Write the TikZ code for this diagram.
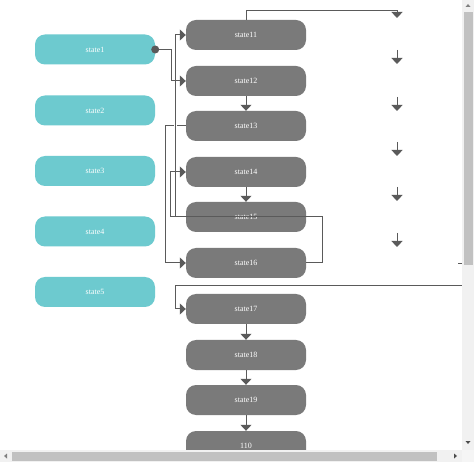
\documentclass[tikz,border=0pt]{standalone}
\usepackage{fontspec}
\setmainfont{Liberation Serif}
\usetikzlibrary{arrows.meta}
\definecolor{tealbox}{HTML}{6DCACF}
\definecolor{greybox}{HTML}{7A7A7A}
\definecolor{linegrey}{HTML}{5A5A5A}
\definecolor{track}{HTML}{F1F1F1}
\definecolor{thumb}{HTML}{C1C1C1}

\begin{document}
\begin{tikzpicture}[x=1pt, y=-1pt, >={Triangle[length=6pt,width=11pt]},
  box/.style={rounded corners=10pt, minimum width=120pt, minimum height=30pt,
    inner sep=0pt, text=white, font=\fontsize{8}{9}\selectfont},
  srcbox/.style={box, fill=tealbox},
  stbox/.style={box, fill=greybox},
  wire/.style={draw=linegrey, line width=1pt}]
  \useasboundingbox (0,0) rectangle (474,462);
  \fill[white] (0,0) rectangle (474,462);

  % left column
  \node[srcbox] (s1) at (95,49.5) {state1};
  \node[srcbox] (s2) at (95,110.5) {state2};
  \node[srcbox] (s3) at (95,171) {state3};
  \node[srcbox] (s4) at (95,231.5) {state4};
  \node[srcbox] (s5) at (95,292) {state5};

  % middle column
  \node[stbox] (s11) at (246,35) {state11};
  \node[stbox] (s12) at (246,81) {state12};
  \node[stbox] (s13) at (246,126) {state13};
  \node[stbox] (s14) at (246,172) {state14};
  \node[stbox] (s15) at (246,217) {state15};
  \node[stbox] (s16) at (246,263) {state16};
  \node[stbox] (s17) at (246,309) {state17};
  \node[stbox] (s18) at (246,355) {state18};
  \node[stbox] (s19) at (246,400) {state19};
  \node[stbox] (s110) at (246,446) {110};

  \coordinate (t11) at (397,18);
  \coordinate (e17) at (462.5,286);

  % connectors
  \draw[wire,->] (s13.west) -- ++(-20,0) |- (s16.west);
  \draw[wire,->,preaction={draw=white,line width=3pt}] (s15.west) -- ++(-10,0) |- (s11.west);
  \draw[wire,->] (s16.east) -- ++(16,0) |- ([xshift=-15pt]s15.west) |- (s14.west);
  \draw[wire,->] (s1.east) -- ++(16,0) |- (s12.west);
  \fill[linegrey] (s1.east) circle (4pt);
  \draw[wire,->] (s11.north) -- ++(0,-9) -| (t11);
  \draw[wire,->] (e17) -| ([xshift=-10pt]s17.west) -- (s17.west);
  \draw[wire,->] (s12) -- (s13);
  \draw[wire,->] (s14) -- (s15);
  \draw[wire,->] (s17) -- (s18);
  \draw[wire,->] (s18) -- (s19);
  \draw[wire,->] (s19) -- (s110);

  % loose ends
  \foreach \y [count=\i] in {50,97,142,187,233} {
    \coordinate (f\i) at (397,\y);
    \coordinate (g\i) at (397,\y+14);
    \draw[wire,->] (f\i) -- (g\i);
  }

  % scrollbars
  \fill[track] (462,0) rectangle (474,450);
  \fill[thumb] (463.5,12) rectangle (472.5,265);
  \fill[track] (0,450) rectangle (462,462);
  \fill[thumb] (12,451.5) rectangle (437,460.5);
  \fill[white!96!black] (462,450) rectangle (474,462);
  \fill[gray] (465.5,7) -- (470.5,7) -- (468,4) -- cycle;
  \fill[black!70] (465.5,441) -- (470.5,441) -- (468,444) -- cycle;
  \fill[gray] (7,453.5) -- (7,458.5) -- (4,456) -- cycle;
  \fill[black!70] (454,453.5) -- (454,458.5) -- (457,456) -- cycle;
  \draw[linegrey, line width=1pt] (458,264) -- (462,264);
\end{tikzpicture}
\end{document}
